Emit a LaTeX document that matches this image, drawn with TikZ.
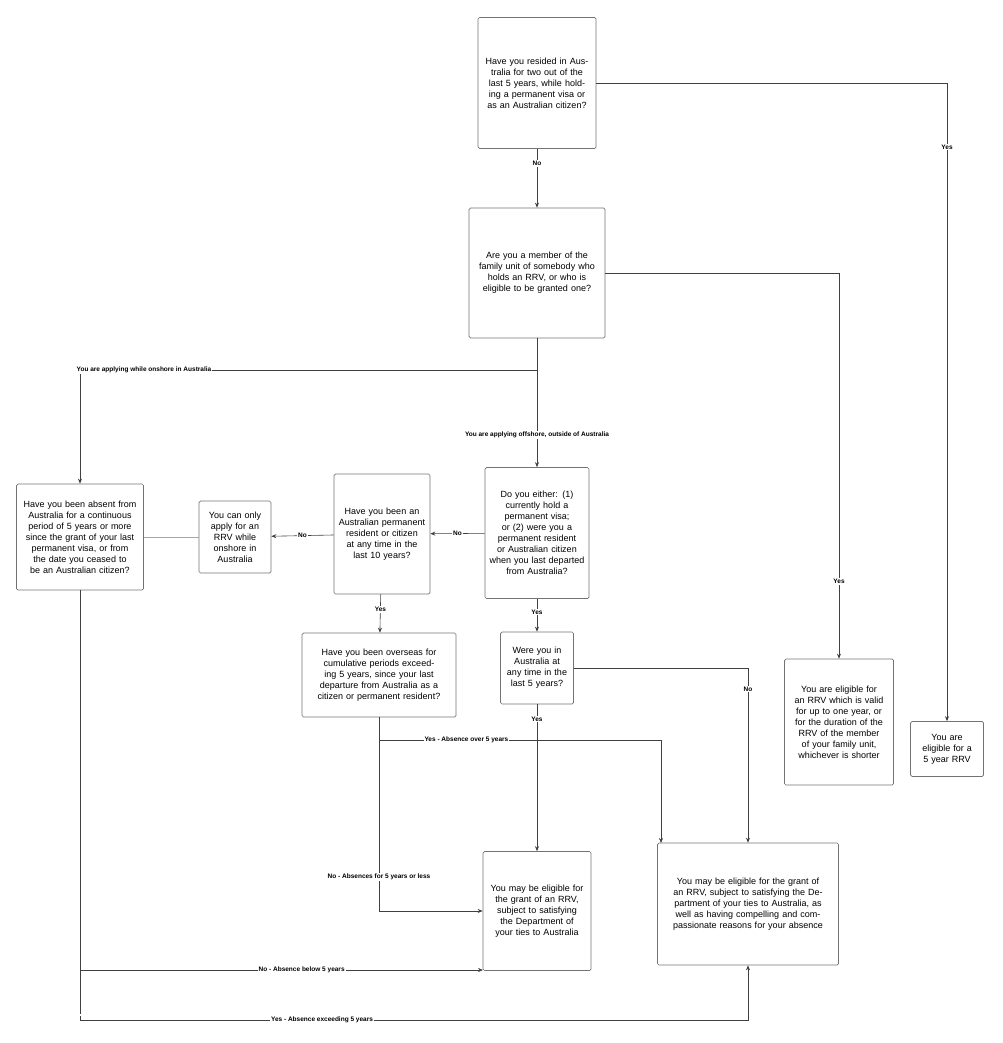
\documentclass[tikz,border=0pt]{standalone}
\usepackage{fontspec}
\setmainfont{Liberation Sans}
\usetikzlibrary{arrows.meta}
\begin{document}
\begin{tikzpicture}[x=1pt,y=-1pt,
 box/.style={draw=black!55,line width=0.7pt,rounded corners=1.5pt,align=center,font=\fontsize{9}{11}\selectfont,inner sep=3pt},
 ar/.style={draw=black!75,line width=0.6pt,-{Stealth[length=5pt,width=4pt]}},
 lb/.style={fill=white,font=\fontsize{6.5}{7}\selectfont\bfseries,inner sep=1pt}]
\useasboundingbox (0,0) rectangle (1002,1043);
\node[box,minimum width=118,minimum height=131,text width=105] (A) at (537,83) {Have you resided in Australia for two out of the last 5 years, while holding a permanent visa or as an Australian citizen?};
\node[box,minimum width=136,minimum height=130,text width=122] (B) at (537,273) {Are you a member of the family unit of somebody who holds an RRV, or who is eligible to be granted one?};
\node[box,minimum width=104,minimum height=131,text width=96] (C) at (537,533) {Do you either: (1) currently hold a permanent visa; or (2) were you a permanent resident or Australian citizen when you last departed from Australia?};
\node[box,minimum width=96,minimum height=120,text width=88] (D) at (382,534) {Have you been an Australian permanent resident or citizen at any time in the last 10 years?};
\node[box,minimum width=72,minimum height=72,text width=66] (E) at (235,537) {You can only apply for an RRV while onshore in Australia};
\node[box,minimum width=127,minimum height=106,text width=120] (F) at (80,537) {Have you been absent from Australia for a continuous period of 5 years or more since the grant of your last permanent visa, or from the date you ceased to be an Australian citizen?};
\node[box,minimum width=154,minimum height=84,text width=146] (G) at (379,675) {Have you been overseas for cumulative periods exceeding 5 years, since your last departure from Australia as a citizen or permanent resident?};
\node[box,minimum width=73,minimum height=72,text width=66] (H) at (537,668) {Were you in Australia at any time in the last 5 years?};
\node[box,minimum width=109,minimum height=126,text width=102] (I) at (839,722) {You are eligible for an RRV which is valid for up to one year, or for the duration of the RRV of the member of your family unit, whichever is shorter};
\node[box,minimum width=73,minimum height=55,text width=66] (J) at (947,749) {You are eligible for a 5 year RRV};
\node[box,minimum width=108,minimum height=119,text width=100] (K) at (537,911) {You may be eligible for the grant of an RRV, subject to satisfying the Department of your ties to Australia};
\node[box,minimum width=181,minimum height=122,text width=170] (L) at (748,904) {You may be eligible for the grant of an RRV, subject to satisfying the Department of your ties to Australia, as well as having compelling and compassionate reasons for your absence};
\coordinate (g1) at (379,740);
\coordinate (f1) at (80,970);
\draw[ar] (A.east) -| node[lb,pos=0.55]{Yes} (J.north);
\draw[ar] (A) -- node[lb,pos=0.25]{No} (B);
\draw[ar] (B.east) -| node[lb,pos=0.9]{Yes} (I.north);
\draw[ar] (B) -- node[lb,pos=0.75]{You are applying offshore, outside of Australia} (C);
\draw[ar] (537,370) -| node[lb,pos=0.43]{You are applying while onshore in Australia} (F.north);
\draw[ar] (C) -- node[lb,pos=0.5]{No} (D);
\draw[ar] (D) -- node[lb,pos=0.5]{No} (E);
\draw[draw=black!35,line width=0.7pt] (E) -- (F);
\draw[ar] (D) -- node[lb,pos=0.4]{Yes} (G);
\draw[ar] (C) -- node[lb,pos=0.4]{Yes} (H);
\draw[ar] (H.east) -| node[lb,pos=0.56]{No} (L.north);
\draw[ar] (H) -- node[lb,pos=0.1]{Yes} (K);
\draw[ar] (G.south) -- (g1) -- node[lb,pos=0.31]{Yes - Absence over 5 years} (661,740) -- (661,843);
\draw[ar] (g1) |- node[lb,pos=0.4]{No - Absences for 5 years or less} (K.west);
\draw[ar] (F.south) -- (f1) -- node[lb,pos=0.55]{No - Absence below 5 years} (483,970);
\draw[ar] (f1) |- (748,1020) node[lb,pos=0.45]{} -- (L.south);
\node[lb] at (322,1020) {Yes - Absence exceeding 5 years};
\end{tikzpicture}
\end{document}
